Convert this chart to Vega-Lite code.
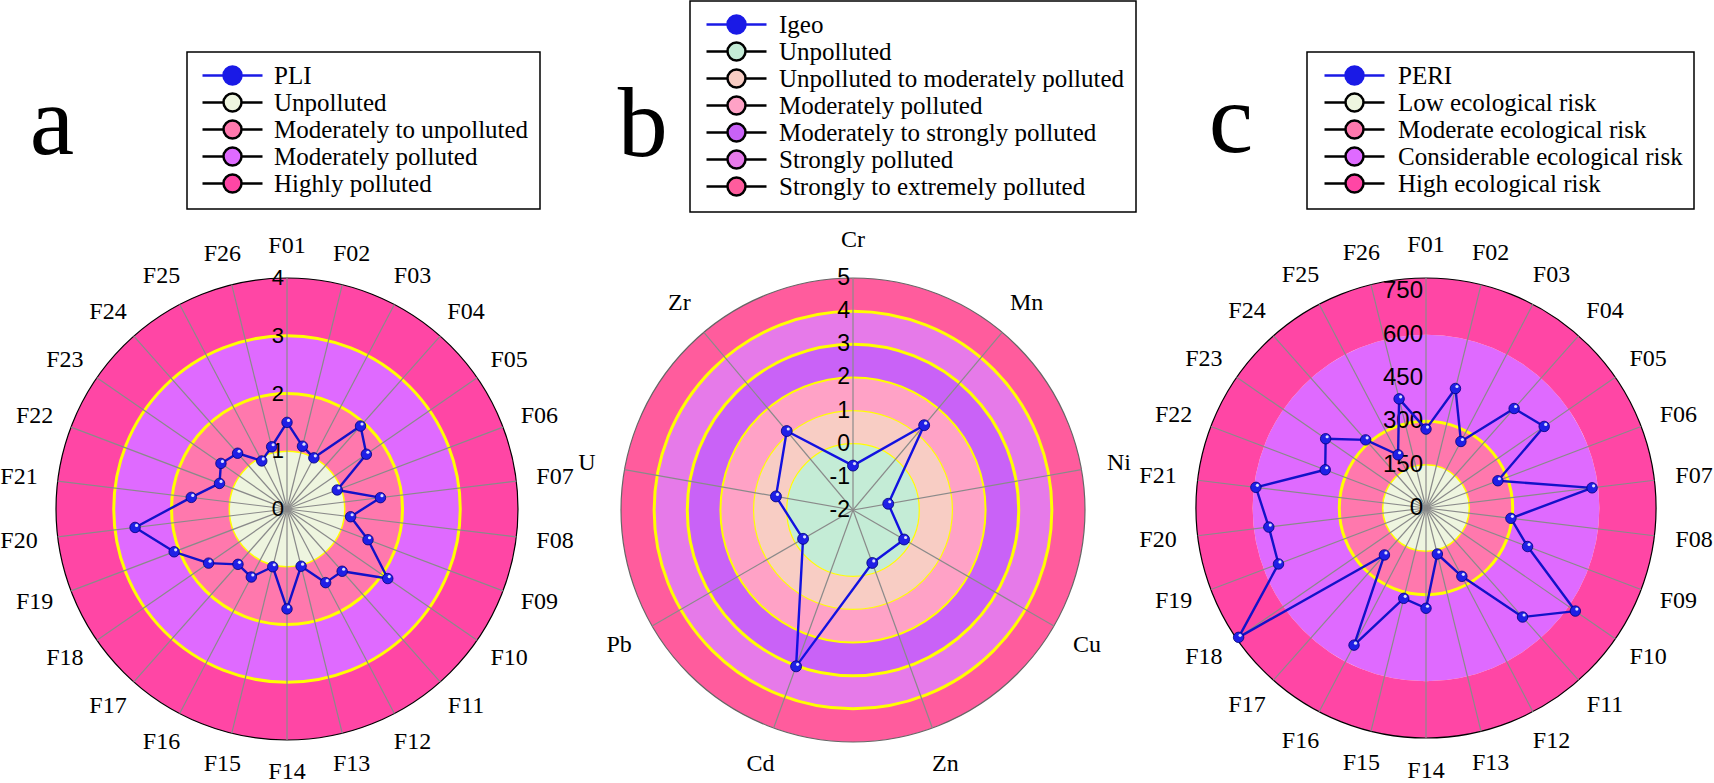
{
  "$schema": "https://vega.github.io/schema/vega-lite/v6.json",
  "padding": 0,
  "background": "white",
  "spacing": 103,
  "bounds": "flush",
  "datasets": {
    "pli": [
      {"site": "F01", "i": 0, "v": 1.50}, {"site": "F02", "i": 1, "v": 1.12},
      {"site": "F03", "i": 2, "v": 1.00}, {"site": "F04", "i": 3, "v": 1.92},
      {"site": "F05", "i": 4, "v": 1.67}, {"site": "F06", "i": 5, "v": 0.93},
      {"site": "F07", "i": 6, "v": 1.63}, {"site": "F08", "i": 7, "v": 1.11},
      {"site": "F09", "i": 8, "v": 1.50}, {"site": "F10", "i": 9, "v": 2.12},
      {"site": "F11", "i": 10, "v": 1.44}, {"site": "F12", "i": 11, "v": 1.44},
      {"site": "F13", "i": 12, "v": 1.02}, {"site": "F14", "i": 13, "v": 1.73},
      {"site": "F15", "i": 14, "v": 1.03}, {"site": "F16", "i": 15, "v": 1.33},
      {"site": "F17", "i": 16, "v": 1.28}, {"site": "F18", "i": 17, "v": 1.65},
      {"site": "F19", "i": 18, "v": 2.09}, {"site": "F20", "i": 19, "v": 2.65},
      {"site": "F21", "i": 20, "v": 1.67}, {"site": "F22", "i": 21, "v": 1.25},
      {"site": "F23", "i": 22, "v": 1.39}, {"site": "F24", "i": 23, "v": 1.29},
      {"site": "F25", "i": 24, "v": 0.94}, {"site": "F26", "i": 25, "v": 1.11}
    ],
    "igeo": [
      {"el": "Cr", "i": 0, "v": -0.66}, {"el": "Mn", "i": 1, "v": 1.34},
      {"el": "Ni", "i": 2, "v": -0.92}, {"el": "Cu", "i": 3, "v": -0.22},
      {"el": "Zn", "i": 4, "v": -0.30}, {"el": "Cd", "i": 5, "v": 3.02},
      {"el": "Pb", "i": 6, "v": -0.26}, {"el": "U", "i": 7, "v": 0.36},
      {"el": "Zr", "i": 8, "v": 1.11}
    ],
    "peri": [
      {"site": "F01", "i": 0, "v": 273}, {"site": "F02", "i": 1, "v": 426},
      {"site": "F03", "i": 2, "v": 260}, {"site": "F04", "i": 3, "v": 460},
      {"site": "F05", "i": 4, "v": 497}, {"site": "F06", "i": 5, "v": 266},
      {"site": "F07", "i": 6, "v": 579}, {"site": "F08", "i": 7, "v": 296},
      {"site": "F09", "i": 8, "v": 376}, {"site": "F10", "i": 9, "v": 628},
      {"site": "F11", "i": 10, "v": 504}, {"site": "F12", "i": 11, "v": 267},
      {"site": "F13", "i": 12, "v": 164}, {"site": "F14", "i": 13, "v": 347},
      {"site": "F15", "i": 14, "v": 322}, {"site": "F16", "i": 15, "v": 536},
      {"site": "F17", "i": 16, "v": 217}, {"site": "F18", "i": 17, "v": 788},
      {"site": "F19", "i": 18, "v": 546}, {"site": "F20", "i": 19, "v": 548},
      {"site": "F21", "i": 20, "v": 593}, {"site": "F22", "i": 21, "v": 373},
      {"site": "F23", "i": 22, "v": 422}, {"site": "F24", "i": 23, "v": 315},
      {"site": "F25", "i": 24, "v": 208}, {"site": "F26", "i": 25, "v": 389}
    ],
    "bandsA": [
      {"band": "Unpolluted", "lo": 0, "hi": 1},
      {"band": "Moderately to unpolluted", "lo": 1, "hi": 2},
      {"band": "Moderately polluted", "lo": 2, "hi": 3},
      {"band": "Highly polluted", "lo": 3, "hi": 4}
    ],
    "bandsB": [
      {"band": "Unpolluted", "lo": -2, "hi": 0},
      {"band": "Unpolluted to moderately polluted", "lo": 0, "hi": 1},
      {"band": "Moderately polluted", "lo": 1, "hi": 2},
      {"band": "Moderately to strongly polluted", "lo": 2, "hi": 3},
      {"band": "Strongly polluted", "lo": 3, "hi": 4},
      {"band": "Strongly to extremely polluted", "lo": 4, "hi": 5}
    ],
    "bandsC": [
      {"band": "Low ecological risk", "lo": 0, "hi": 150},
      {"band": "Moderate ecological risk", "lo": 150, "hi": 300},
      {"band": "Considerable ecological risk", "lo": 300, "hi": 600},
      {"band": "High ecological risk", "lo": 600, "hi": 796}
    ],
    "ringsA": [{"r": 1}, {"r": 2}, {"r": 3}],
    "ringsB": [{"r": 0}, {"r": 1}, {"r": 2}, {"r": 3}, {"r": 4}],
    "ringsC": [{"r": 150}, {"r": 300}],
    "ticksA": [{"t": 0}, {"t": 1}, {"t": 2}, {"t": 3}, {"t": 4}],
    "ticksB": [{"t": -2}, {"t": -1}, {"t": 0}, {"t": 1}, {"t": 2}, {"t": 3}, {"t": 4}, {"t": 5}],
    "ticksC": [{"t": 0}, {"t": 150}, {"t": 300}, {"t": 450}, {"t": 600}, {"t": 750}],
    "edgeA": [{"r": 4}],
    "edgeB": [{"r": 5}],
    "edgeC": [{"r": 796}]
  },
  "hconcat": [
    {
      "width": 462,
      "height": 462,
      "layer": [
        {
          "data": {"name": "bandsA"},
          "mark": {"type": "arc", "theta": 0, "theta2": 6.2832},
          "encoding": {
            "radius": {"field": "hi", "type": "quantitative", "scale": {"type": "linear", "domain": [0, 4], "range": [0, 231], "zero": false}},
            "radius2": {"field": "lo"},
            "color": {
              "field": "band", "type": "nominal",
              "scale": {
                "domain": ["PLI", "Unpolluted", "Moderately to unpolluted", "Moderately polluted", "Highly polluted"],
                "range": ["#1a1ae6", "#eef5df", "#ff78ad", "#df6aff", "#ff46a5"]
              },
              "legend": {
                "title": null, "orient": "none", "direction": "vertical", "legendX": 131, "legendY": -226,
                "symbolType": "M-3,0H-0.9A0.9,0.9 0 1,1 0.9,0H3M0.9,0A0.9,0.9 0 1,1 -0.9,0",
                "symbolSize": 400, "symbolStrokeWidth": 2.5, "symbolStrokeColor": "black",
                "symbolOffset": 22, "labelOffset": 29,
                "labelFont": "Liberation Serif", "labelFontSize": 25, "labelColor": "black", "labelLimit": 0,
                "padding": 11, "rowPadding": -3, "strokeColor": "black", "fillColor": "white",
                "encode": {
                  "symbols": {"update": {"stroke": {"signal": "datum.value === 'PLI' ? '#1a1ae6' : 'black'"}}},
                  "legend": {"update": {"strokeWidth": {"value": 1.5}}}
                }
              }
            }
          }
        },
        {
          "data": {"name": "ringsA"},
          "mark": {"type": "arc", "theta": 0, "theta2": 6.2832, "fillOpacity": 0, "stroke": "#ffff00"},
          "encoding": {
            "radius": {"field": "r", "type": "quantitative", "scale": {"type": "linear", "domain": [0, 4], "range": [0, 231], "zero": false}},
            "radius2": {"field": "r"},
            "strokeWidth": {"condition": {"test": "datum.r < 1.5", "value": 1.5}, "value": 3}
          }
        },
        {
          "data": {"name": "edgeA"},
          "mark": {"type": "arc", "theta": 0, "theta2": 6.2832, "fillOpacity": 0, "stroke": "#000000", "strokeWidth": 1.2},
          "encoding": {
            "radius": {"field": "r", "type": "quantitative", "scale": {"type": "linear", "domain": [0, 4], "range": [0, 231], "zero": false}},
            "radius2": {"field": "r"}
          }
        },
        {
          "data": {"name": "pli"},
          "transform": [
            {"calculate": "0", "as": "cx"},
            {"calculate": "4*sin(datum.i*2*PI/26)", "as": "sx"},
            {"calculate": "4*cos(datum.i*2*PI/26)", "as": "sy"}
          ],
          "mark": {"type": "rule", "color": "#8a8a8a", "strokeWidth": 1.2},
          "encoding": {
            "x": {"field": "cx", "type": "quantitative", "scale": {"domain": [-4, 4], "nice": false, "zero": false}, "axis": null},
            "y": {"field": "cx", "type": "quantitative", "scale": {"domain": [-4, 4], "nice": false, "zero": false}, "axis": null},
            "x2": {"field": "sx"},
            "y2": {"field": "sy"}
          }
        },
        {
          "data": {"name": "ticksA"},
          "transform": [{"calculate": "0", "as": "cx"}],
          "mark": {"type": "text", "align": "right", "baseline": "middle", "dx": -3, "font": "Liberation Sans", "fontSize": 22, "color": "black"},
          "encoding": {
            "x": {"field": "cx", "type": "quantitative", "scale": {"domain": [-4, 4], "nice": false, "zero": false}, "axis": null},
            "y": {"field": "t", "type": "quantitative", "scale": {"domain": [-4, 4], "nice": false, "zero": false}, "axis": null},
            "text": {"field": "t", "type": "nominal"}
          }
        },
        {
          "data": {"name": "pli"},
          "transform": [
            {"calculate": "datum.v*sin(datum.i*2*PI/26)", "as": "x"},
            {"calculate": "datum.v*cos(datum.i*2*PI/26)", "as": "y"},
            {"window": [
              {"op": "lead", "field": "x", "as": "nx"}, {"op": "lead", "field": "y", "as": "ny"},
              {"op": "first_value", "field": "x", "as": "fx"}, {"op": "first_value", "field": "y", "as": "fy"}
            ], "sort": [{"field": "i"}], "frame": [null, null]},
            {"calculate": "datum.nx == null ? datum.fx : datum.nx", "as": "x2"},
            {"calculate": "datum.ny == null ? datum.fy : datum.ny", "as": "y2"}
          ],
          "mark": {"type": "rule", "color": "#1212c8", "strokeWidth": 2.4, "strokeCap": "round"},
          "encoding": {
            "x": {"field": "x", "type": "quantitative", "scale": {"domain": [-4, 4], "nice": false, "zero": false}, "axis": null},
            "y": {"field": "y", "type": "quantitative", "scale": {"domain": [-4, 4], "nice": false, "zero": false}, "axis": null},
            "x2": {"field": "x2"},
            "y2": {"field": "y2"}
          }
        },
        {
          "data": {"name": "pli"},
          "transform": [
            {"calculate": "datum.v*sin(datum.i*2*PI/26)", "as": "x"},
            {"calculate": "datum.v*cos(datum.i*2*PI/26)", "as": "y"}
          ],
          "mark": {"type": "point", "filled": true, "size": 110, "color": "#1f1fe6", "stroke": "#00007a", "strokeWidth": 0.8, "opacity": 1},
          "encoding": {
            "x": {"field": "x", "type": "quantitative", "scale": {"domain": [-4, 4], "nice": false, "zero": false}, "axis": null},
            "y": {"field": "y", "type": "quantitative", "scale": {"domain": [-4, 4], "nice": false, "zero": false}, "axis": null}
          }
        },
        {
          "data": {"name": "pli"},
          "transform": [
            {"calculate": "datum.v*sin(datum.i*2*PI/26)", "as": "x"},
            {"calculate": "datum.v*cos(datum.i*2*PI/26)", "as": "y"}
          ],
          "mark": {"type": "point", "filled": true, "size": 10, "color": "#ffffff", "opacity": 0.85, "xOffset": 1.5, "yOffset": -2},
          "encoding": {
            "x": {"field": "x", "type": "quantitative", "scale": {"domain": [-4, 4], "nice": false, "zero": false}, "axis": null},
            "y": {"field": "y", "type": "quantitative", "scale": {"domain": [-4, 4], "nice": false, "zero": false}, "axis": null}
          }
        },
        {
          "data": {"name": "pli"},
          "transform": [
            {"calculate": "4.675*sin(datum.i*2*PI/26)", "as": "lx"},
            {"calculate": "4.554*cos(datum.i*2*PI/26)", "as": "ly"}
          ],
          "mark": {"type": "text", "align": "center", "baseline": "middle", "font": "Liberation Serif", "fontSize": 24, "color": "black"},
          "encoding": {
            "x": {"field": "lx", "type": "quantitative", "scale": {"domain": [-4, 4], "nice": false, "zero": false}, "axis": null},
            "y": {"field": "ly", "type": "quantitative", "scale": {"domain": [-4, 4], "nice": false, "zero": false}, "axis": null},
            "text": {"field": "site", "type": "nominal"}
          }
        },
        {
          "data": {"name": "edgeA"},
          "transform": [
            {"calculate": "-4.07", "as": "lx"},
            {"calculate": "6.15", "as": "ly"}
          ],
          "mark": {"type": "text", "align": "center", "baseline": "alphabetic", "font": "Liberation Serif", "fontSize": 100, "color": "black", "text": "a"},
          "encoding": {
            "x": {"field": "lx", "type": "quantitative", "scale": {"domain": [-4, 4], "nice": false, "zero": false}, "axis": null},
            "y": {"field": "ly", "type": "quantitative", "scale": {"domain": [-4, 4], "nice": false, "zero": false}, "axis": null}
          }
        }
      ]
    },
    {
      "width": 464,
      "height": 464,
      "layer": [
        {
          "data": {"name": "bandsB"},
          "mark": {"type": "arc", "theta": 0, "theta2": 6.2832},
          "encoding": {
            "radius": {"field": "hi", "type": "quantitative", "scale": {"type": "linear", "domain": [-2, 5], "range": [0, 232], "zero": false}},
            "radius2": {"field": "lo"},
            "color": {
              "field": "band", "type": "nominal",
              "scale": {
                "domain": ["Igeo", "Unpolluted", "Unpolluted to moderately polluted", "Moderately polluted", "Moderately to strongly polluted", "Strongly polluted", "Strongly to extremely polluted"],
                "range": ["#1a1ae6", "#c4ecd6", "#f8cdc4", "#ffa2c6", "#c962f7", "#e67ae9", "#ff5c9d"]
              },
              "legend": {
                "title": null, "orient": "none", "direction": "vertical", "legendX": 69, "legendY": -277,
                "symbolType": "M-3,0H-0.9A0.9,0.9 0 1,1 0.9,0H3M0.9,0A0.9,0.9 0 1,1 -0.9,0",
                "symbolSize": 400, "symbolStrokeWidth": 2.5, "symbolStrokeColor": "black",
                "symbolOffset": 23, "labelOffset": 30,
                "labelFont": "Liberation Serif", "labelFontSize": 25, "labelColor": "black", "labelLimit": 0,
                "padding": 11, "rowPadding": -3, "strokeColor": "black", "fillColor": "white",
                "encode": {
                  "symbols": {"update": {"stroke": {"signal": "datum.value === 'Igeo' ? '#1a1ae6' : 'black'"}}},
                  "legend": {"update": {"strokeWidth": {"value": 1.5}}}
                }
              }
            }
          }
        },
        {
          "data": {"name": "ringsB"},
          "mark": {"type": "arc", "theta": 0, "theta2": 6.2832, "fillOpacity": 0, "stroke": "#ffff00"},
          "encoding": {
            "radius": {"field": "r", "type": "quantitative", "scale": {"type": "linear", "domain": [-2, 5], "range": [0, 232], "zero": false}},
            "radius2": {"field": "r"},
            "strokeWidth": {"condition": [{"test": "datum.r < 1.5", "value": 1.2}, {"test": "datum.r < 2.5", "value": 2}], "value": 3}
          }
        },
        {
          "data": {"name": "edgeB"},
          "mark": {"type": "arc", "theta": 0, "theta2": 6.2832, "fillOpacity": 0, "stroke": "#666666", "strokeWidth": 1.2},
          "encoding": {
            "radius": {"field": "r", "type": "quantitative", "scale": {"type": "linear", "domain": [-2, 5], "range": [0, 232], "zero": false}},
            "radius2": {"field": "r"}
          }
        },
        {
          "data": {"name": "igeo"},
          "transform": [
            {"calculate": "0", "as": "cx"},
            {"calculate": "7*sin(datum.i*2*PI/9)", "as": "sx"},
            {"calculate": "7*cos(datum.i*2*PI/9)", "as": "sy"}
          ],
          "mark": {"type": "rule", "color": "#8a8a8a", "strokeWidth": 1.2},
          "encoding": {
            "x": {"field": "cx", "type": "quantitative", "scale": {"domain": [-7, 7], "nice": false, "zero": false}, "axis": null},
            "y": {"field": "cx", "type": "quantitative", "scale": {"domain": [-7, 7], "nice": false, "zero": false}, "axis": null},
            "x2": {"field": "sx"},
            "y2": {"field": "sy"}
          }
        },
        {
          "data": {"name": "ticksB"},
          "transform": [{"calculate": "0", "as": "cx"}, {"calculate": "datum.t + 2", "as": "ty"}],
          "mark": {"type": "text", "align": "right", "baseline": "middle", "dx": -3, "font": "Liberation Sans", "fontSize": 23, "color": "black"},
          "encoding": {
            "x": {"field": "cx", "type": "quantitative", "scale": {"domain": [-7, 7], "nice": false, "zero": false}, "axis": null},
            "y": {"field": "ty", "type": "quantitative", "scale": {"domain": [-7, 7], "nice": false, "zero": false}, "axis": null},
            "text": {"field": "t", "type": "nominal"}
          }
        },
        {
          "data": {"name": "igeo"},
          "transform": [
            {"calculate": "(datum.v+2)*sin(datum.i*2*PI/9)", "as": "x"},
            {"calculate": "(datum.v+2)*cos(datum.i*2*PI/9)", "as": "y"},
            {"window": [
              {"op": "lead", "field": "x", "as": "nx"}, {"op": "lead", "field": "y", "as": "ny"},
              {"op": "first_value", "field": "x", "as": "fx"}, {"op": "first_value", "field": "y", "as": "fy"}
            ], "sort": [{"field": "i"}], "frame": [null, null]},
            {"calculate": "datum.nx == null ? datum.fx : datum.nx", "as": "x2"},
            {"calculate": "datum.ny == null ? datum.fy : datum.ny", "as": "y2"}
          ],
          "mark": {"type": "rule", "color": "#1212e0", "strokeWidth": 2.4, "strokeCap": "round"},
          "encoding": {
            "x": {"field": "x", "type": "quantitative", "scale": {"domain": [-7, 7], "nice": false, "zero": false}, "axis": null},
            "y": {"field": "y", "type": "quantitative", "scale": {"domain": [-7, 7], "nice": false, "zero": false}, "axis": null},
            "x2": {"field": "x2"},
            "y2": {"field": "y2"}
          }
        },
        {
          "data": {"name": "igeo"},
          "transform": [
            {"calculate": "(datum.v+2)*sin(datum.i*2*PI/9)", "as": "x"},
            {"calculate": "(datum.v+2)*cos(datum.i*2*PI/9)", "as": "y"}
          ],
          "mark": {"type": "point", "filled": true, "size": 120, "color": "#1f1fe6", "stroke": "#00007a", "strokeWidth": 0.8, "opacity": 1},
          "encoding": {
            "x": {"field": "x", "type": "quantitative", "scale": {"domain": [-7, 7], "nice": false, "zero": false}, "axis": null},
            "y": {"field": "y", "type": "quantitative", "scale": {"domain": [-7, 7], "nice": false, "zero": false}, "axis": null}
          }
        },
        {
          "data": {"name": "igeo"},
          "transform": [
            {"calculate": "(datum.v+2)*sin(datum.i*2*PI/9)", "as": "x"},
            {"calculate": "(datum.v+2)*cos(datum.i*2*PI/9)", "as": "y"}
          ],
          "mark": {"type": "point", "filled": true, "size": 10, "color": "#ffffff", "opacity": 0.85, "xOffset": 1.5, "yOffset": -2},
          "encoding": {
            "x": {"field": "x", "type": "quantitative", "scale": {"domain": [-7, 7], "nice": false, "zero": false}, "axis": null},
            "y": {"field": "y", "type": "quantitative", "scale": {"domain": [-7, 7], "nice": false, "zero": false}, "axis": null}
          }
        },
        {
          "data": {"name": "igeo"},
          "transform": [
            {"calculate": "8.15*sin(datum.i*2*PI/9)", "as": "lx"},
            {"calculate": "8.15*cos(datum.i*2*PI/9)", "as": "ly"}
          ],
          "mark": {"type": "text", "align": "center", "baseline": "middle", "font": "Liberation Serif", "fontSize": 24, "color": "black"},
          "encoding": {
            "x": {"field": "lx", "type": "quantitative", "scale": {"domain": [-7, 7], "nice": false, "zero": false}, "axis": null},
            "y": {"field": "ly", "type": "quantitative", "scale": {"domain": [-7, 7], "nice": false, "zero": false}, "axis": null},
            "text": {"field": "el", "type": "nominal"}
          }
        },
        {
          "data": {"name": "edgeB"},
          "transform": [
            {"calculate": "-6.34", "as": "lx"},
            {"calculate": "10.68", "as": "ly"}
          ],
          "mark": {"type": "text", "align": "center", "baseline": "alphabetic", "font": "Liberation Serif", "fontSize": 100, "color": "black", "text": "b"},
          "encoding": {
            "x": {"field": "lx", "type": "quantitative", "scale": {"domain": [-7, 7], "nice": false, "zero": false}, "axis": null},
            "y": {"field": "ly", "type": "quantitative", "scale": {"domain": [-7, 7], "nice": false, "zero": false}, "axis": null}
          }
        }
      ]
    },
    {
      "width": 476,
      "height": 460,
      "layer": [
        {
          "data": {"name": "bandsC"},
          "mark": {"type": "arc", "theta": 0, "theta2": 6.2832},
          "encoding": {
            "radius": {"field": "hi", "type": "quantitative", "scale": {"type": "linear", "domain": [0, 796], "range": [0, 230], "zero": false}},
            "radius2": {"field": "lo"},
            "color": {
              "field": "band", "type": "nominal",
              "scale": {
                "domain": ["PERI", "Low ecological risk", "Moderate ecological risk", "Considerable ecological risk", "High ecological risk"],
                "range": ["#1a1ae6", "#eef5df", "#ff78ad", "#df6aff", "#ff46a5"]
              },
              "legend": {
                "title": null, "orient": "none", "direction": "vertical", "legendX": 119, "legendY": -226,
                "symbolType": "M-3,0H-0.9A0.9,0.9 0 1,1 0.9,0H3M0.9,0A0.9,0.9 0 1,1 -0.9,0",
                "symbolSize": 400, "symbolStrokeWidth": 2.5, "symbolStrokeColor": "black",
                "symbolOffset": 24, "labelOffset": 31,
                "labelFont": "Liberation Serif", "labelFontSize": 25, "labelColor": "black", "labelLimit": 0,
                "padding": 11, "rowPadding": -3, "strokeColor": "black", "fillColor": "white",
                "encode": {
                  "symbols": {"update": {"stroke": {"signal": "datum.value === 'PERI' ? '#1a1ae6' : 'black'"}}},
                  "legend": {"update": {"strokeWidth": {"value": 1.5}}}
                }
              }
            }
          }
        },
        {
          "data": {"name": "ringsC"},
          "mark": {"type": "arc", "theta": 0, "theta2": 6.2832, "fillOpacity": 0, "stroke": "#ffff00"},
          "encoding": {
            "radius": {"field": "r", "type": "quantitative", "scale": {"type": "linear", "domain": [0, 796], "range": [0, 230], "zero": false}},
            "radius2": {"field": "r"},
            "strokeWidth": {"condition": {"test": "datum.r < 200", "value": 1.5}, "value": 3}
          }
        },
        {
          "data": {"name": "edgeC"},
          "mark": {"type": "arc", "theta": 0, "theta2": 6.2832, "fillOpacity": 0, "stroke": "#000000", "strokeWidth": 1.2},
          "encoding": {
            "radius": {"field": "r", "type": "quantitative", "scale": {"type": "linear", "domain": [0, 796], "range": [0, 230], "zero": false}},
            "radius2": {"field": "r"}
          }
        },
        {
          "data": {"name": "peri"},
          "transform": [
            {"calculate": "0", "as": "cx"},
            {"calculate": "796*sin(datum.i*2*PI/26)", "as": "sx"},
            {"calculate": "796*cos(datum.i*2*PI/26)", "as": "sy"}
          ],
          "mark": {"type": "rule", "color": "#8a8a8a", "strokeWidth": 1.2},
          "encoding": {
            "x": {"field": "cx", "type": "quantitative", "scale": {"domain": [-823.7, 823.7], "nice": false, "zero": false}, "axis": null},
            "y": {"field": "cx", "type": "quantitative", "scale": {"domain": [-796, 796], "nice": false, "zero": false}, "axis": null},
            "x2": {"field": "sx"},
            "y2": {"field": "sy"}
          }
        },
        {
          "data": {"name": "ticksC"},
          "transform": [{"calculate": "0", "as": "cx"}],
          "mark": {"type": "text", "align": "right", "baseline": "middle", "dx": -3, "font": "Liberation Sans", "fontSize": 24, "color": "black"},
          "encoding": {
            "x": {"field": "cx", "type": "quantitative", "scale": {"domain": [-823.7, 823.7], "nice": false, "zero": false}, "axis": null},
            "y": {"field": "t", "type": "quantitative", "scale": {"domain": [-796, 796], "nice": false, "zero": false}, "axis": null},
            "text": {"field": "t", "type": "nominal"}
          }
        },
        {
          "data": {"name": "peri"},
          "transform": [
            {"calculate": "datum.v*sin(datum.i*2*PI/26)", "as": "x"},
            {"calculate": "datum.v*cos(datum.i*2*PI/26)", "as": "y"},
            {"window": [
              {"op": "lead", "field": "x", "as": "nx"}, {"op": "lead", "field": "y", "as": "ny"},
              {"op": "first_value", "field": "x", "as": "fx"}, {"op": "first_value", "field": "y", "as": "fy"}
            ], "sort": [{"field": "i"}], "frame": [null, null]},
            {"calculate": "datum.nx == null ? datum.fx : datum.nx", "as": "x2"},
            {"calculate": "datum.ny == null ? datum.fy : datum.ny", "as": "y2"}
          ],
          "mark": {"type": "rule", "color": "#1212c8", "strokeWidth": 2.4, "strokeCap": "round"},
          "encoding": {
            "x": {"field": "x", "type": "quantitative", "scale": {"domain": [-823.7, 823.7], "nice": false, "zero": false}, "axis": null},
            "y": {"field": "y", "type": "quantitative", "scale": {"domain": [-796, 796], "nice": false, "zero": false}, "axis": null},
            "x2": {"field": "x2"},
            "y2": {"field": "y2"}
          }
        },
        {
          "data": {"name": "peri"},
          "transform": [
            {"calculate": "datum.v*sin(datum.i*2*PI/26)", "as": "x"},
            {"calculate": "datum.v*cos(datum.i*2*PI/26)", "as": "y"}
          ],
          "mark": {"type": "point", "filled": true, "size": 110, "color": "#1f1fe6", "stroke": "#00007a", "strokeWidth": 0.8, "opacity": 1},
          "encoding": {
            "x": {"field": "x", "type": "quantitative", "scale": {"domain": [-823.7, 823.7], "nice": false, "zero": false}, "axis": null},
            "y": {"field": "y", "type": "quantitative", "scale": {"domain": [-796, 796], "nice": false, "zero": false}, "axis": null}
          }
        },
        {
          "data": {"name": "peri"},
          "transform": [
            {"calculate": "datum.v*sin(datum.i*2*PI/26)", "as": "x"},
            {"calculate": "datum.v*cos(datum.i*2*PI/26)", "as": "y"}
          ],
          "mark": {"type": "point", "filled": true, "size": 10, "color": "#ffffff", "opacity": 0.85, "xOffset": 1.5, "yOffset": -2},
          "encoding": {
            "x": {"field": "x", "type": "quantitative", "scale": {"domain": [-823.7, 823.7], "nice": false, "zero": false}, "axis": null},
            "y": {"field": "y", "type": "quantitative", "scale": {"domain": [-796, 796], "nice": false, "zero": false}, "axis": null}
          }
        },
        {
          "data": {"name": "peri"},
          "transform": [
            {"calculate": "934.4*sin(datum.i*2*PI/26)", "as": "lx"},
            {"calculate": "910.2*cos(datum.i*2*PI/26)", "as": "ly"}
          ],
          "mark": {"type": "text", "align": "center", "baseline": "middle", "font": "Liberation Serif", "fontSize": 24, "color": "black"},
          "encoding": {
            "x": {"field": "lx", "type": "quantitative", "scale": {"domain": [-823.7, 823.7], "nice": false, "zero": false}, "axis": null},
            "y": {"field": "ly", "type": "quantitative", "scale": {"domain": [-796, 796], "nice": false, "zero": false}, "axis": null},
            "text": {"field": "site", "type": "nominal"}
          }
        },
        {
          "data": {"name": "edgeC"},
          "transform": [
            {"calculate": "-675", "as": "lx"},
            {"calculate": "1232", "as": "ly"}
          ],
          "mark": {"type": "text", "align": "center", "baseline": "alphabetic", "font": "Liberation Serif", "fontSize": 100, "color": "black", "text": "c"},
          "encoding": {
            "x": {"field": "lx", "type": "quantitative", "scale": {"domain": [-823.7, 823.7], "nice": false, "zero": false}, "axis": null},
            "y": {"field": "ly", "type": "quantitative", "scale": {"domain": [-796, 796], "nice": false, "zero": false}, "axis": null}
          }
        }
      ]
    }
  ],
  "resolve": {
    "scale": {"color": "independent", "radius": "independent", "x": "independent", "y": "independent"},
    "legend": {"color": "independent"}
  },
  "config": {
    "view": {"stroke": null},
    "axis": {"grid": false, "domain": false, "ticks": false, "labels": false}
  }
}
